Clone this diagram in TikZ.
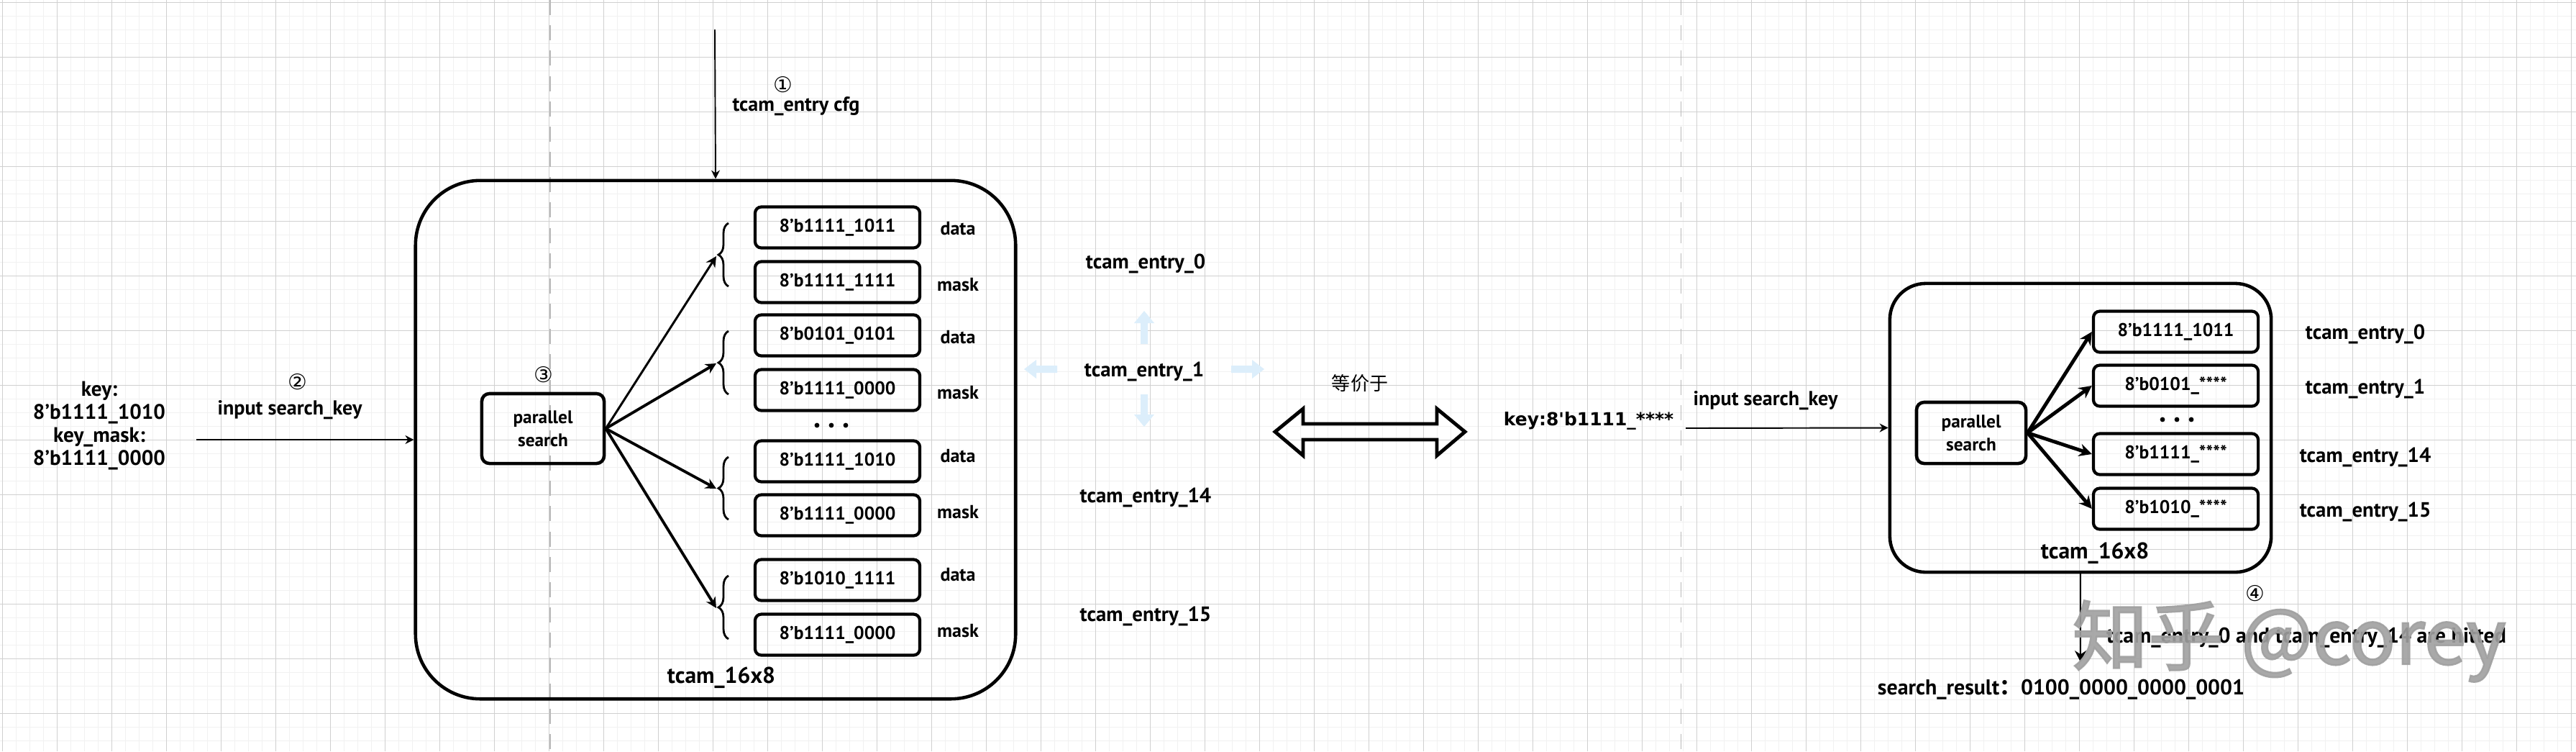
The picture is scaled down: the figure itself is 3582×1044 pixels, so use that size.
\documentclass[tikz,border=0pt]{standalone}
\usepackage{fontspec}
\setmainfont{PT Sans}
\newfontfamily\cjk{Noto Sans CJK SC}
\newfontfamily\cjkwm[FakeBold=2.2]{Noto Sans CJK SC}
\newfontfamily\symf{DejaVu Sans}
\usetikzlibrary{arrows.meta,decorations.pathreplacing}
\definecolor{minorg}{RGB}{241,241,241}
\definecolor{majorg}{RGB}{208,208,208}
\definecolor{dashg}{RGB}{185,185,185}
\definecolor{hoverblue}{RGB}{220,238,251}
\definecolor{wmgray}{RGB}{160,160,160}
\tikzset{
  txt/.style={inner sep=0pt, align=center, font=\bfseries\fontsize{8}{9.6}\selectfont},
  entlbl/.style={inner sep=0pt, font=\bfseries\fontsize{8.2}{9.6}\selectfont},
  dm/.style={inner sep=0pt, font=\bfseries\fontsize{7.4}{9}\selectfont},
  circ/.style={inner sep=0pt, font=\symf\fontsize{8.5}{10}\selectfont},
  entbox/.style={draw, line width=1.2pt, rounded corners=2.5pt, minimum width=2.29cm,
    minimum height=0.57cm, inner sep=0pt, font=\bfseries\fontsize{7.3}{8.6}\selectfont},
  bigbox/.style={draw, line width=1.3pt, inner sep=0pt},
  psbox/.style={draw, line width=1.3pt, rounded corners=3pt, align=center, inner sep=0pt,
    font=\bfseries\fontsize{7.2}{9.2}\selectfont},
  thinarrow/.style={-{Stealth[length=3.4pt,width=3.4pt]}, line width=0.55pt},
  fanarrow/.style={-{Stealth[length=4.2pt,width=4.2pt]}, line width=0.85pt},
  rfanarrow/.style={-{Stealth[length=5pt,width=5pt]}, line width=1.4pt},
  bracest/.style={decorate, decoration={brace, amplitude=0.14cm}, line width=0.8pt},
  hover/.style={fill=hoverblue, draw=none},
  dotst/.style={fill=black, draw=none}
}
\begin{document}
\begin{tikzpicture}[x=0.01cm, y=-0.01cm]
\useasboundingbox (0,0) rectangle (3582,1044);
\fill[white] (0,0) rectangle (3582,1044);
% grid
\foreach \i in {0,...,188} {\draw[minorg, line width=0.3pt] ({3.3+19*\i},0) -- ++(0,1044);}
\foreach \j in {0,...,55} {\draw[minorg, line width=0.3pt] (0,{3.3+19*\j}) -- ++(3582,0);}
\foreach \i in {0,...,47} {\draw[majorg, line width=0.35pt] ({3.3+76*\i},0) -- ++(0,1044);}
\foreach \j in {0,...,13} {\draw[majorg, line width=0.35pt] (0,{3.3+76*\j}) -- ++(3582,0);}
% page break dashed lines
\draw[dashg, line width=0.4pt, dash pattern=on 6pt off 4pt] (765,0) -- (765,1044);
\draw[dashg, line width=0.4pt, dash pattern=on 6pt off 4pt] (2337.5,0) -- (2337.5,1044);

% ================= left part =================
\node[bigbox, rounded corners=0.9cm, minimum width=8.34cm, minimum height=7.2cm] (big) at (995,611) {};
\node[txt, font=\bfseries\fontsize{9}{10}\selectfont] (bigl) at (1003,942) {tcam\_16x8};

\coordinate (cfgtop) at (994,41);
\draw[thinarrow] (cfgtop) -- (big.north);
\node[circ] (c1) at (1089,118) {①};
\node[txt] (cfgl) at (1107,148) {tcam\_entry cfg};

\node[txt, font=\bfseries\fontsize{8.3}{9.1}\selectfont] (key) at (138,592) {key:\\8'b1111\_1010\\key\_mask:\\8'b1111\_0000};
\coordinate (instart) at (273,611);
\draw[thinarrow] (instart) -- (big.west);
\node[circ] (c2) at (414,531) {②};
\node[txt] (inl) at (403,570) {input search\_key};

\node[circ] (c3) at (756,521) {③};
\node[psbox, minimum width=1.7cm, minimum height=0.97cm] (ps) at (755,595.5) {parallel\\search};

\node[entbox] (e1) at (1164.5,316) {8'b1111\_1011};
\node[entbox] (e2) at (1164.5,392) {8'b1111\_1111};
\node[entbox] (e3) at (1164.5,466) {8'b0101\_0101};
\node[entbox] (e4) at (1164.5,542) {8'b1111\_0000};
\node[entbox] (e5) at (1164.5,641) {8'b1111\_1010};
\node[entbox] (e6) at (1164.5,716) {8'b1111\_0000};
\node[entbox] (e7) at (1164.5,806) {8'b1010\_1111};
\node[entbox] (e8) at (1164.5,882) {8'b1111\_0000};

\node[dm] (m1) at (1332,318) {data};
\node[dm] (m2) at (1332,396) {mask};
\node[dm] (m3) at (1332,469) {data};
\node[dm] (m4) at (1332,546) {mask};
\node[dm] (m5) at (1332,634) {data};
\node[dm] (m6) at (1332,712) {mask};
\node[dm] (m7) at (1332,799) {data};
\node[dm] (m8) at (1332,877) {mask};

\fill[dotst] (1136,591) circle (3.4) (1156,591) circle (3.4) (1176,591) circle (3.4);

\draw[bracest] (1013,398) -- (1013,310);
\draw[bracest] (1013,548) -- (1013,460);
\draw[bracest] (1013,722) -- (1013,635);
\draw[bracest] (1013,888) -- (1013,800);
\coordinate (b1) at (996,356);
\coordinate (b2) at (996,505);
\coordinate (b3) at (996,679);
\coordinate (b4) at (996,845);
\draw[fanarrow] (ps.east) -- (b1);
\draw[fanarrow, line width=1.1pt] (ps.east) -- (b2);
\draw[fanarrow, line width=1.1pt] (ps.east) -- (b3);
\draw[fanarrow, line width=1.1pt] (ps.east) -- (b4);

% entry labels
\node[entlbl] (l0) at (1593,366) {tcam\_entry\_0};
\node[entlbl] (l1) at (1591,516) {tcam\_entry\_1};
\node[entlbl] (l14) at (1593,691) {tcam\_entry\_14};
\node[entlbl] (l15) at (1593,856) {tcam\_entry\_15};

% hover arrows
\fill[hover] (1591,432) -- (1605,449) -- (1596,449) -- (1596,478) -- (1586,478) -- (1586,449) -- (1577,449) -- cycle;
\fill[hover] (1591,593) -- (1605,576) -- (1596,576) -- (1596,548) -- (1586,548) -- (1586,576) -- (1577,576) -- cycle;
\fill[hover] (1424,513) -- (1441,500) -- (1441,508) -- (1470,508) -- (1470,518) -- (1441,518) -- (1441,526) -- cycle;
\fill[hover] (1758,513) -- (1741,500) -- (1741,508) -- (1712,508) -- (1712,518) -- (1741,518) -- (1741,526) -- cycle;

% equivalence
\node[inner sep=0pt, font=\cjk\fontsize{7.4}{9}\selectfont] (eq) at (1891,533) {等价于};
\draw[line width=1.4pt, line join=miter] (1773,600) -- (1812,568) -- (1812,589) -- (1998,589) -- (1998,568)
  -- (2037,600) -- (1998,633) -- (1998,611) -- (1812,611) -- (1812,633) -- cycle;
\node[inner sep=0pt, font=\symf\bfseries\fontsize{7.1}{9}\selectfont] (rkey) at (2209,585) {key:8'b1111\_****};

% ================= right part =================
\node[bigbox, rounded corners=0.5cm, minimum width=5.3cm, minimum height=4.01cm] (rbig) at (2893,594.5) {};
\node[txt, font=\bfseries\fontsize{9}{10}\selectfont] (rbigl) at (2913,769) {tcam\_16x8};
\node[txt] (rinl) at (2455,557) {input search\_key};
\coordinate (rinstart) at (2344,595);
\draw[thinarrow] (rinstart) -- (rbig.west);

\node[psbox, minimum width=1.52cm, minimum height=0.85cm] (rps) at (2741,601.5) {parallel\\search};
\node[entbox] (r1) at (3025.5,461) {8'b1111\_1011};
\node[entbox] (r2) at (3025.5,536) {8'b0101\_****};
\node[entbox] (r3) at (3025.5,631) {8'b1111\_****};
\node[entbox] (r4) at (3025.5,707) {8'b1010\_****};
\fill[dotst] (3007,583) circle (3.4) (3027,583) circle (3.4) (3047,583) circle (3.4);
\draw[rfanarrow] (rps.east) -- (r1.west);
\draw[rfanarrow] (rps.east) -- (r2.west);
\draw[rfanarrow] (rps.east) -- (r3.west);
\draw[rfanarrow] (rps.east) -- (r4.west);

\node[entlbl] (rl0) at (3289,464) {tcam\_entry\_0};
\node[entlbl] (rl1) at (3289,540) {tcam\_entry\_1};
\node[entlbl] (rl14) at (3289,635) {tcam\_entry\_14};
\node[entlbl] (rl15) at (3289,711) {tcam\_entry\_15};

\coordinate (outend) at (2893,920);
\draw[-{Stealth[length=4.5pt,width=4.5pt]}, line width=0.8pt] (rbig.south) -- (outend);
\node[circ] (c4) at (3136,825) {④};
\node[txt, font=\bfseries\fontsize{8.5}{10}\selectfont] (hit) at (3207,886) {tcam\_entry\_0 and tcam\_entry\_14 are hitted};
\node[txt, font=\bfseries\fontsize{8.5}{10}\selectfont] (res) at (2866,958) {search\_result{\cjk ：}0100\_0000\_0000\_0001};

% watermark
\node[inner sep=0pt, text=wmgray, text opacity=0.9, font=\cjkwm\fontsize{30}{32}\selectfont] (wm) at (3183,891) {知乎 @corey};
\end{tikzpicture}
\end{document}
